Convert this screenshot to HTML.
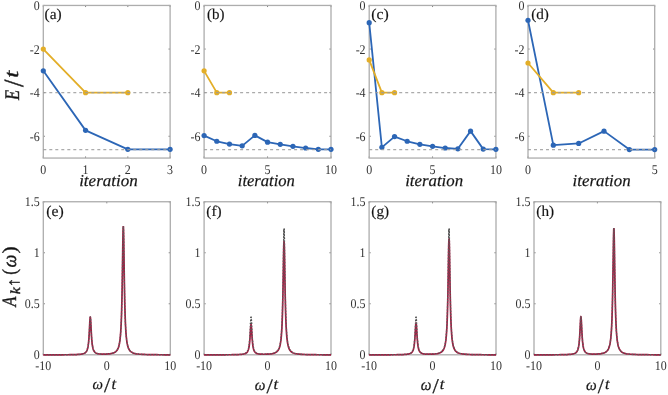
<!DOCTYPE html>
<html><head><meta charset="utf-8"><style>html,body{margin:0;padding:0;background:#fff;width:668px;height:395px;overflow:hidden}svg{display:block}text{text-rendering:geometricPrecision}</style></head>
<body><svg width="668" height="395" viewBox="0 0 668 395">
<rect width="668" height="395" fill="#fff"/>
<path d="M43.3 158.05v-1.6M43.3 5.45v1.6M85.57 158.05v-1.6M85.57 5.45v1.6M127.83 158.05v-1.6M127.83 5.45v1.6M170.1 158.05v-1.6M170.1 5.45v1.6M43.3 5.45h1.6M170.1 5.45h-1.6M43.3 49.05h1.6M170.1 49.05h-1.6M43.3 92.65h1.6M170.1 92.65h-1.6M43.3 136.25h1.6M170.1 136.25h-1.6" stroke="#808080" stroke-width="1" fill="none"/>
<rect x="43.3" y="5.45" width="126.8" height="152.6" fill="none" stroke="#adadad" stroke-width="1.3"/>
<polyline points="43.3,70.85 85.57,130.36 127.83,149.33 170.1,149.33" fill="none" stroke="#2c66b6" stroke-width="1.8" stroke-linejoin="round"/>
<polyline points="43.3,49.05 85.57,92.65 127.83,92.65" fill="none" stroke="#e3ae28" stroke-width="1.8" stroke-linejoin="round"/>
<circle cx="43.3" cy="70.85" r="2.6" fill="#2c66b6"/>
<circle cx="85.57" cy="130.36" r="2.6" fill="#2c66b6"/>
<circle cx="127.83" cy="149.33" r="2.6" fill="#2c66b6"/>
<circle cx="170.1" cy="149.33" r="2.6" fill="#2c66b6"/>
<circle cx="43.3" cy="49.05" r="2.6" fill="#e3ae28"/>
<circle cx="85.57" cy="92.65" r="2.6" fill="#e3ae28"/>
<circle cx="127.83" cy="92.65" r="2.6" fill="#e3ae28"/>
<line x1="43.3" x2="170.1" y1="92.65" y2="92.65" stroke="#9c9c9c" stroke-width="1.4" stroke-dasharray="3 3" stroke-opacity="0.85"/>
<line x1="43.3" x2="170.1" y1="149.66" y2="149.66" stroke="#9c9c9c" stroke-width="1.4" stroke-dasharray="3 3" stroke-opacity="0.85"/>
<path d="M204.1 158.05v-1.6M204.1 5.45v1.6M267.55 158.05v-1.6M267.55 5.45v1.6M331 158.05v-1.6M331 5.45v1.6M204.1 5.45h1.6M331 5.45h-1.6M204.1 49.05h1.6M331 49.05h-1.6M204.1 92.65h1.6M331 92.65h-1.6M204.1 136.25h1.6M331 136.25h-1.6" stroke="#808080" stroke-width="1" fill="none"/>
<rect x="204.1" y="5.45" width="126.9" height="152.6" fill="none" stroke="#adadad" stroke-width="1.3"/>
<polyline points="204.1,135.6 216.79,141.26 229.48,144.1 242.17,145.84 254.86,135.38 267.55,142.14 280.24,144.32 292.93,146.28 305.62,148.02 318.31,149.33 331,149.33" fill="none" stroke="#2c66b6" stroke-width="1.8" stroke-linejoin="round"/>
<polyline points="204.1,70.85 216.79,92.65 229.48,92.65" fill="none" stroke="#e3ae28" stroke-width="1.8" stroke-linejoin="round"/>
<circle cx="204.1" cy="135.6" r="2.6" fill="#2c66b6"/>
<circle cx="216.79" cy="141.26" r="2.6" fill="#2c66b6"/>
<circle cx="229.48" cy="144.1" r="2.6" fill="#2c66b6"/>
<circle cx="242.17" cy="145.84" r="2.6" fill="#2c66b6"/>
<circle cx="254.86" cy="135.38" r="2.6" fill="#2c66b6"/>
<circle cx="267.55" cy="142.14" r="2.6" fill="#2c66b6"/>
<circle cx="280.24" cy="144.32" r="2.6" fill="#2c66b6"/>
<circle cx="292.93" cy="146.28" r="2.6" fill="#2c66b6"/>
<circle cx="305.62" cy="148.02" r="2.6" fill="#2c66b6"/>
<circle cx="318.31" cy="149.33" r="2.6" fill="#2c66b6"/>
<circle cx="331" cy="149.33" r="2.6" fill="#2c66b6"/>
<circle cx="204.1" cy="70.85" r="2.6" fill="#e3ae28"/>
<circle cx="216.79" cy="92.65" r="2.6" fill="#e3ae28"/>
<circle cx="229.48" cy="92.65" r="2.6" fill="#e3ae28"/>
<line x1="204.1" x2="331" y1="92.65" y2="92.65" stroke="#9c9c9c" stroke-width="1.4" stroke-dasharray="3 3" stroke-opacity="0.85"/>
<line x1="204.1" x2="331" y1="149.66" y2="149.66" stroke="#9c9c9c" stroke-width="1.4" stroke-dasharray="3 3" stroke-opacity="0.85"/>
<path d="M369.2 158.05v-1.6M369.2 5.45v1.6M432.55 158.05v-1.6M432.55 5.45v1.6M495.9 158.05v-1.6M495.9 5.45v1.6M369.2 5.45h1.6M495.9 5.45h-1.6M369.2 49.05h1.6M495.9 49.05h-1.6M369.2 92.65h1.6M495.9 92.65h-1.6M369.2 136.25h1.6M495.9 136.25h-1.6" stroke="#808080" stroke-width="1" fill="none"/>
<rect x="369.2" y="5.45" width="126.7" height="152.6" fill="none" stroke="#adadad" stroke-width="1.3"/>
<polyline points="369.2,22.67 381.87,147.37 394.54,136.58 407.21,141.26 419.88,144.32 432.55,146.28 445.22,148.02 457.89,148.78 470.56,131.13 483.23,149.11 495.9,149.33" fill="none" stroke="#2c66b6" stroke-width="1.8" stroke-linejoin="round"/>
<polyline points="369.2,59.95 381.87,92.65 394.54,92.65" fill="none" stroke="#e3ae28" stroke-width="1.8" stroke-linejoin="round"/>
<circle cx="369.2" cy="22.67" r="2.6" fill="#2c66b6"/>
<circle cx="381.87" cy="147.37" r="2.6" fill="#2c66b6"/>
<circle cx="394.54" cy="136.58" r="2.6" fill="#2c66b6"/>
<circle cx="407.21" cy="141.26" r="2.6" fill="#2c66b6"/>
<circle cx="419.88" cy="144.32" r="2.6" fill="#2c66b6"/>
<circle cx="432.55" cy="146.28" r="2.6" fill="#2c66b6"/>
<circle cx="445.22" cy="148.02" r="2.6" fill="#2c66b6"/>
<circle cx="457.89" cy="148.78" r="2.6" fill="#2c66b6"/>
<circle cx="470.56" cy="131.13" r="2.6" fill="#2c66b6"/>
<circle cx="483.23" cy="149.11" r="2.6" fill="#2c66b6"/>
<circle cx="495.9" cy="149.33" r="2.6" fill="#2c66b6"/>
<circle cx="369.2" cy="59.95" r="2.6" fill="#e3ae28"/>
<circle cx="381.87" cy="92.65" r="2.6" fill="#e3ae28"/>
<circle cx="394.54" cy="92.65" r="2.6" fill="#e3ae28"/>
<line x1="369.2" x2="495.9" y1="92.65" y2="92.65" stroke="#9c9c9c" stroke-width="1.4" stroke-dasharray="3 3" stroke-opacity="0.85"/>
<line x1="369.2" x2="495.9" y1="149.66" y2="149.66" stroke="#9c9c9c" stroke-width="1.4" stroke-dasharray="3 3" stroke-opacity="0.85"/>
<path d="M528 158.05v-1.6M528 5.45v1.6M654.7 158.05v-1.6M654.7 5.45v1.6M528 5.45h1.6M654.7 5.45h-1.6M528 49.05h1.6M654.7 49.05h-1.6M528 92.65h1.6M654.7 92.65h-1.6M528 136.25h1.6M654.7 136.25h-1.6" stroke="#808080" stroke-width="1" fill="none"/>
<rect x="528" y="5.45" width="126.7" height="152.6" fill="none" stroke="#adadad" stroke-width="1.3"/>
<polyline points="528,20.27 553.34,145.19 578.68,143.44 604.02,131.13 629.36,149.55 654.7,149.55" fill="none" stroke="#2c66b6" stroke-width="1.8" stroke-linejoin="round"/>
<polyline points="528,63 553.34,92.65 578.68,92.65" fill="none" stroke="#e3ae28" stroke-width="1.8" stroke-linejoin="round"/>
<circle cx="528" cy="20.27" r="2.6" fill="#2c66b6"/>
<circle cx="553.34" cy="145.19" r="2.6" fill="#2c66b6"/>
<circle cx="578.68" cy="143.44" r="2.6" fill="#2c66b6"/>
<circle cx="604.02" cy="131.13" r="2.6" fill="#2c66b6"/>
<circle cx="629.36" cy="149.55" r="2.6" fill="#2c66b6"/>
<circle cx="654.7" cy="149.55" r="2.6" fill="#2c66b6"/>
<circle cx="528" cy="63" r="2.6" fill="#e3ae28"/>
<circle cx="553.34" cy="92.65" r="2.6" fill="#e3ae28"/>
<circle cx="578.68" cy="92.65" r="2.6" fill="#e3ae28"/>
<line x1="528" x2="654.7" y1="92.65" y2="92.65" stroke="#9c9c9c" stroke-width="1.4" stroke-dasharray="3 3" stroke-opacity="0.85"/>
<line x1="528" x2="654.7" y1="149.66" y2="149.66" stroke="#9c9c9c" stroke-width="1.4" stroke-dasharray="3 3" stroke-opacity="0.85"/>
<path d="M43.3 354.8v-1.6M43.3 201.75v1.6M106.8 354.8v-1.6M106.8 201.75v1.6M170.3 354.8v-1.6M170.3 201.75v1.6M43.3 354.8h1.6M170.3 354.8h-1.6M43.3 303.78h1.6M170.3 303.78h-1.6M43.3 252.77h1.6M170.3 252.77h-1.6M43.3 201.75h1.6M170.3 201.75h-1.6" stroke="#808080" stroke-width="1" fill="none"/>
<rect x="43.3" y="201.75" width="127" height="153.05" fill="none" stroke="#adadad" stroke-width="1.3"/>
<polyline points="43.3,354.85 45.2,354.84 47.11,354.84 49.02,354.83 50.92,354.83 52.83,354.82 54.73,354.82 56.63,354.81 58.54,354.8 60.45,354.79 62.35,354.78 64.25,354.77 66.16,354.75 68.06,354.73 69.97,354.7 71.8,354.67 73.46,354.63 74.98,354.59 76.36,354.53 77.61,354.47 78.75,354.4 79.79,354.31 80.73,354.21 81.59,354.08 82.38,353.93 83.09,353.76 83.74,353.55 84.33,353.3 84.86,353 85.35,352.65 85.8,352.24 86.2,351.75 86.57,351.18 86.9,350.52 87.21,349.75 87.49,348.87 87.74,347.87 87.97,346.75 88.18,345.49 88.37,344.11 88.54,342.62 88.7,341.01 88.84,339.33 88.97,337.59 89.09,335.82 89.2,334.05 89.3,332.31 89.39,330.63 89.47,329.04 89.54,327.51 89.62,325.97 89.7,324.44 89.77,322.95 89.85,321.54 89.92,320.25 90,319.13 90.08,318.22 90.15,317.56 90.23,317.17 90.29,317.08 90.31,317.08 90.38,317.29 90.46,317.79 90.53,318.55 90.61,319.55 90.69,320.74 90.76,322.08 90.84,323.52 90.91,325.03 90.99,326.57 91.07,328.11 91.14,329.63 91.22,331.11 91.3,332.65 91.4,334.25 91.49,335.86 91.6,337.48 91.72,339.07 91.85,340.62 91.99,342.1 92.14,343.5 92.31,344.81 92.49,346.01 92.69,347.11 92.91,348.1 93.14,348.98 93.4,349.76 93.68,350.45 93.98,351.05 94.32,351.57 94.68,352.03 95.07,352.41 95.5,352.74 95.97,353.03 96.49,353.26 97.04,353.46 97.65,353.63 98.31,353.77 99.03,353.88 99.82,353.97 100.68,354.03 101.61,354.08 102.63,354.11 103.74,354.11 104.96,354.09 106.28,354.04 107.71,353.95 109.12,353.82 110.39,353.65 111.56,353.44 112.61,353.17 113.58,352.85 114.45,352.46 115.25,351.99 115.98,351.43 116.64,350.75 117.24,349.94 117.78,348.98 118.28,347.83 118.73,346.47 119.15,344.87 119.52,343 119.86,340.81 120.17,338.27 120.45,335.36 120.71,332.03 120.94,328.28 121.16,324.07 121.35,319.44 121.53,314.42 121.69,309.01 121.83,303.3 121.97,297.38 122.09,291.35 122.2,285.27 122.3,279.33 122.39,273.54 122.47,268.07 122.55,262.87 122.62,257.6 122.7,252.35 122.78,247.22 122.85,242.34 122.93,237.85 123.01,233.9 123.08,230.64 123.16,228.21 123.23,226.7 123.31,226.19 123.39,226.7 123.46,228.21 123.54,230.65 123.61,233.91 123.69,237.85 123.77,242.34 123.84,247.22 123.92,252.35 124,257.61 124.07,262.88 124.15,268.07 124.22,273.13 124.31,278.39 124.4,283.81 124.49,289.33 124.6,294.87 124.72,300.34 124.84,305.66 124.98,310.8 125.13,315.65 125.3,320.18 125.47,324.36 125.67,328.19 125.88,331.66 126.11,334.75 126.37,337.51 126.64,339.94 126.94,342.07 127.27,343.92 127.62,345.53 128.01,346.91 128.44,348.11 128.9,349.13 129.4,350 129.95,350.75 130.54,351.38 131.2,351.92 131.91,352.38 132.68,352.77 133.52,353.1 134.44,353.38 135.44,353.61 136.54,353.81 137.73,353.98 139.02,354.12 140.44,354.24 141.98,354.34 143.66,354.43 145.49,354.5 147.39,354.56 149.3,354.61 151.2,354.64 153.11,354.68 155.01,354.7 156.92,354.72 158.82,354.74 160.73,354.76 162.63,354.77 164.54,354.78 166.44,354.79 168.35,354.8 170.25,354.81 170.3,354.81" fill="none" stroke="#a31a40" stroke-width="1.7"/>
<polyline points="43.3,354.85 45.2,354.84 47.11,354.84 49.02,354.83 50.92,354.83 52.83,354.82 54.73,354.82 56.63,354.81 58.54,354.8 60.45,354.79 62.35,354.78 64.25,354.77 66.16,354.75 68.06,354.73 69.97,354.7 71.8,354.67 73.46,354.63 74.98,354.59 76.36,354.53 77.61,354.47 78.75,354.4 79.79,354.31 80.73,354.21 81.59,354.08 82.38,353.93 83.09,353.76 83.74,353.55 84.33,353.3 84.86,353 85.35,352.65 85.8,352.24 86.2,351.75 86.57,351.18 86.9,350.52 87.21,349.75 87.49,348.87 87.74,347.87 87.97,346.75 88.18,345.49 88.37,344.11 88.54,342.62 88.7,341.01 88.84,339.33 88.97,337.59 89.09,335.82 89.2,334.05 89.3,332.31 89.39,330.63 89.47,329.04 89.54,327.51 89.62,325.97 89.7,324.44 89.77,322.95 89.85,321.54 89.92,320.25 90,319.13 90.08,318.22 90.15,317.56 90.23,317.17 90.29,317.08 90.31,317.08 90.38,317.29 90.46,317.79 90.53,318.55 90.61,319.55 90.69,320.74 90.76,322.08 90.84,323.52 90.91,325.03 90.99,326.57 91.07,328.11 91.14,329.63 91.22,331.11 91.3,332.65 91.4,334.25 91.49,335.86 91.6,337.48 91.72,339.07 91.85,340.62 91.99,342.1 92.14,343.5 92.31,344.81 92.49,346.01 92.69,347.11 92.91,348.1 93.14,348.98 93.4,349.76 93.68,350.45 93.98,351.05 94.32,351.57 94.68,352.03 95.07,352.41 95.5,352.74 95.97,353.03 96.49,353.26 97.04,353.46 97.65,353.63 98.31,353.77 99.03,353.88 99.82,353.97 100.68,354.03 101.61,354.08 102.63,354.11 103.74,354.11 104.96,354.09 106.28,354.04 107.71,353.95 109.12,353.82 110.39,353.65 111.56,353.44 112.61,353.17 113.58,352.85 114.45,352.46 115.25,351.99 115.98,351.43 116.64,350.75 117.24,349.94 117.78,348.98 118.28,347.83 118.73,346.47 119.15,344.87 119.52,343 119.86,340.81 120.17,338.27 120.45,335.36 120.71,332.03 120.94,328.28 121.16,324.07 121.35,319.44 121.53,314.42 121.69,309.01 121.83,303.3 121.97,297.38 122.09,291.35 122.2,285.27 122.3,279.33 122.39,273.54 122.47,268.07 122.55,262.87 122.62,257.6 122.7,252.35 122.78,247.22 122.85,242.34 122.93,237.85 123.01,233.9 123.08,230.64 123.16,228.21 123.23,226.7 123.31,226.19 123.39,226.7 123.46,228.21 123.54,230.65 123.61,233.91 123.69,237.85 123.77,242.34 123.84,247.22 123.92,252.35 124,257.61 124.07,262.88 124.15,268.07 124.22,273.13 124.31,278.39 124.4,283.81 124.49,289.33 124.6,294.87 124.72,300.34 124.84,305.66 124.98,310.8 125.13,315.65 125.3,320.18 125.47,324.36 125.67,328.19 125.88,331.66 126.11,334.75 126.37,337.51 126.64,339.94 126.94,342.07 127.27,343.92 127.62,345.53 128.01,346.91 128.44,348.11 128.9,349.13 129.4,350 129.95,350.75 130.54,351.38 131.2,351.92 131.91,352.38 132.68,352.77 133.52,353.1 134.44,353.38 135.44,353.61 136.54,353.81 137.73,353.98 139.02,354.12 140.44,354.24 141.98,354.34 143.66,354.43 145.49,354.5 147.39,354.56 149.3,354.61 151.2,354.64 153.11,354.68 155.01,354.7 156.92,354.72 158.82,354.74 160.73,354.76 162.63,354.77 164.54,354.78 166.44,354.79 168.35,354.8 170.25,354.81 170.3,354.81" fill="none" stroke="#5e5e5e" stroke-width="1.3" stroke-dasharray="1.5 1.54" stroke-dashoffset="1.42"/>
<path d="M204.1 354.8v-1.6M204.1 201.75v1.6M267.55 354.8v-1.6M267.55 201.75v1.6M331 354.8v-1.6M331 201.75v1.6M204.1 354.8h1.6M331 354.8h-1.6M204.1 303.78h1.6M331 303.78h-1.6M204.1 252.77h1.6M331 252.77h-1.6M204.1 201.75h1.6M331 201.75h-1.6" stroke="#808080" stroke-width="1" fill="none"/>
<rect x="204.1" y="201.75" width="126.9" height="153.05" fill="none" stroke="#adadad" stroke-width="1.3"/>
<polyline points="204.1,354.85 206,354.85 207.91,354.85 209.81,354.84 211.71,354.84 213.62,354.84 215.52,354.83 217.42,354.82 219.33,354.82 221.23,354.81 223.13,354.8 225.04,354.79 226.94,354.77 228.85,354.76 230.75,354.74 232.58,354.71 234.24,354.68 235.75,354.64 237.13,354.6 238.38,354.55 239.52,354.49 240.56,354.42 241.51,354.34 242.36,354.24 243.15,354.12 243.86,353.98 244.51,353.81 245.1,353.61 245.63,353.37 246.12,353.09 246.56,352.76 246.97,352.37 247.33,351.91 247.67,351.38 247.97,350.77 248.25,350.07 248.5,349.27 248.73,348.37 248.94,347.37 249.13,346.26 249.3,345.07 249.46,343.79 249.61,342.44 249.74,341.05 249.85,339.63 249.96,338.21 250.06,336.82 250.15,335.48 250.23,334.21 250.31,332.99 250.38,331.76 250.46,330.53 250.54,329.34 250.61,328.21 250.69,327.19 250.76,326.29 250.84,325.56 250.92,325.03 250.99,324.73 251.05,324.65 251.07,324.65 251.14,324.82 251.22,325.22 251.3,325.83 251.37,326.62 251.45,327.58 251.53,328.65 251.6,329.8 251.68,331.01 251.75,332.24 251.83,333.47 251.91,334.68 251.98,335.86 252.07,337.1 252.16,338.38 252.26,339.66 252.37,340.96 252.48,342.23 252.61,343.47 252.75,344.65 252.91,345.77 253.07,346.82 253.25,347.78 253.45,348.66 253.67,349.44 253.9,350.15 254.16,350.78 254.44,351.33 254.74,351.81 255.08,352.22 255.44,352.58 255.83,352.89 256.26,353.16 256.73,353.38 257.24,353.57 257.8,353.73 258.41,353.86 259.07,353.97 259.79,354.06 260.58,354.13 261.43,354.18 262.37,354.21 263.39,354.23 264.5,354.23 265.71,354.21 267.03,354.16 268.46,354.08 269.87,353.96 271.14,353.81 272.3,353.62 273.36,353.38 274.32,353.1 275.2,352.75 275.99,352.33 276.72,351.83 277.38,351.23 277.98,350.52 278.52,349.66 279.02,348.65 279.47,347.45 279.89,346.03 280.26,344.37 280.6,342.43 280.91,340.19 281.19,337.61 281.45,334.67 281.68,331.34 281.9,327.62 282.09,323.53 282.27,319.08 282.43,314.29 282.57,309.24 282.71,304 282.83,298.67 282.94,293.28 283.04,288.03 283.13,282.9 283.21,278.06 283.29,273.46 283.36,268.8 283.44,264.15 283.51,259.61 283.59,255.29 283.67,251.32 283.74,247.82 283.82,244.94 283.89,242.78 283.97,241.44 284.05,240.99 284.12,241.44 284.2,242.78 284.28,244.94 284.35,247.82 284.43,251.32 284.5,255.29 284.58,259.61 284.66,264.15 284.73,268.8 284.81,273.46 284.88,278.06 284.96,282.54 285.04,287.2 285.13,291.98 285.23,296.87 285.34,301.77 285.45,306.62 285.58,311.33 285.72,315.87 285.87,320.17 286.03,324.17 286.21,327.88 286.4,331.27 286.62,334.33 286.85,337.07 287.1,339.51 287.38,341.66 287.68,343.54 288,345.18 288.36,346.61 288.75,347.84 289.17,348.89 289.63,349.8 290.13,350.57 290.68,351.23 291.28,351.79 291.93,352.27 292.64,352.67 293.41,353.02 294.25,353.31 295.17,353.56 296.17,353.76 297.26,353.94 298.45,354.09 299.75,354.21 301.16,354.32 302.7,354.41 304.38,354.49 306.21,354.55 308.11,354.6 310.02,354.64 311.92,354.68 313.82,354.7 315.73,354.72 317.63,354.74 319.53,354.76 321.44,354.77 323.34,354.78 325.24,354.79 327.15,354.8 329.05,354.81 330.95,354.82 331,354.82" fill="none" stroke="#a31a40" stroke-width="1.7"/>
<polyline points="204.1,354.85 206,354.84 207.91,354.84 209.81,354.83 211.71,354.83 213.62,354.82 215.52,354.82 217.42,354.81 219.33,354.8 221.23,354.79 223.13,354.78 225.04,354.77 226.94,354.75 228.85,354.73 230.75,354.7 232.58,354.67 234.24,354.63 235.75,354.59 237.13,354.54 238.38,354.48 239.52,354.4 240.56,354.32 241.51,354.21 242.36,354.09 243.15,353.94 243.86,353.76 244.51,353.55 245.1,353.31 245.63,353.01 246.12,352.66 246.56,352.25 246.97,351.77 247.33,351.2 247.67,350.54 247.97,349.78 248.25,348.91 248.5,347.91 248.73,346.79 248.94,345.55 249.13,344.17 249.3,342.68 249.46,341.09 249.61,339.41 249.74,337.68 249.85,335.92 249.96,334.16 250.06,332.43 250.15,330.76 250.23,329.18 250.31,327.66 250.38,326.13 250.46,324.6 250.54,323.12 250.61,321.72 250.69,320.44 250.76,319.33 250.84,318.42 250.92,317.76 250.99,317.38 251.05,317.29 251.07,317.29 251.14,317.5 251.22,317.99 251.3,318.75 251.37,319.74 251.45,320.93 251.53,322.26 251.6,323.7 251.68,325.2 251.75,326.73 251.83,328.26 251.91,329.76 251.98,331.24 252.07,332.78 252.16,334.36 252.26,335.97 252.37,337.58 252.48,339.16 252.61,340.7 252.75,342.17 252.91,343.57 253.07,344.87 253.25,346.06 253.45,347.15 253.67,348.14 253.9,349.02 254.16,349.79 254.44,350.48 254.74,351.08 255.08,351.6 255.44,352.04 255.83,352.43 256.26,352.76 256.73,353.04 257.24,353.28 257.8,353.48 258.41,353.64 259.07,353.78 259.79,353.89 260.58,353.98 261.43,354.04 262.37,354.09 263.39,354.12 264.5,354.12 265.71,354.1 267.03,354.06 268.46,353.97 269.87,353.84 271.14,353.67 272.3,353.46 273.36,353.2 274.32,352.89 275.2,352.51 275.99,352.04 276.72,351.49 277.38,350.82 277.98,350.03 278.52,349.08 279.02,347.96 279.47,346.62 279.89,345.06 280.26,343.21 280.6,341.06 280.91,338.57 281.19,335.71 281.45,332.45 281.68,328.76 281.9,324.63 282.09,320.09 282.27,315.15 282.43,309.84 282.57,304.24 282.71,298.43 282.83,292.51 282.94,286.54 283.04,280.71 283.13,275.02 283.21,269.65 283.29,264.55 283.36,259.38 283.44,254.22 283.51,249.18 283.59,244.39 283.67,239.99 283.74,236.11 283.82,232.91 283.89,230.52 283.97,229.03 284.05,228.53 284.12,229.03 284.2,230.52 284.28,232.91 284.35,236.11 284.43,239.99 284.5,244.4 284.58,249.19 284.66,254.22 284.73,259.38 284.81,264.55 284.88,269.66 284.96,274.62 285.04,279.79 285.13,285.1 285.23,290.52 285.34,295.96 285.45,301.34 285.58,306.56 285.72,311.6 285.87,316.36 286.03,320.81 286.21,324.92 286.4,328.68 286.62,332.08 286.85,335.12 287.1,337.83 287.38,340.21 287.68,342.3 288,344.12 288.36,345.7 288.75,347.06 289.17,348.23 289.63,349.23 290.13,350.09 290.68,350.82 291.28,351.45 291.93,351.98 292.64,352.43 293.41,352.81 294.25,353.13 295.17,353.41 296.17,353.64 297.26,353.83 298.45,354 299.75,354.14 301.16,354.25 302.7,354.35 304.38,354.44 306.21,354.51 308.11,354.57 310.02,354.61 311.92,354.65 313.82,354.68 315.73,354.7 317.63,354.73 319.53,354.74 321.44,354.76 323.34,354.77 325.24,354.78 327.15,354.79 329.05,354.8 330.95,354.81 331,354.81" fill="none" stroke="#5e5e5e" stroke-width="1.3" stroke-dasharray="1.5 1.54" stroke-dashoffset="1.42"/>
<clipPath id="tip204"><rect x="204.1" y="201.75" width="126.9" height="38.68"/><rect x="246.05" y="290" width="10" height="34.2"/></clipPath>
<polyline clip-path="url(#tip204)" points="204.1,354.85 206,354.84 207.91,354.84 209.81,354.83 211.71,354.83 213.62,354.82 215.52,354.82 217.42,354.81 219.33,354.8 221.23,354.79 223.13,354.78 225.04,354.77 226.94,354.75 228.85,354.73 230.75,354.7 232.58,354.67 234.24,354.63 235.75,354.59 237.13,354.54 238.38,354.48 239.52,354.4 240.56,354.32 241.51,354.21 242.36,354.09 243.15,353.94 243.86,353.76 244.51,353.55 245.1,353.31 245.63,353.01 246.12,352.66 246.56,352.25 246.97,351.77 247.33,351.2 247.67,350.54 247.97,349.78 248.25,348.91 248.5,347.91 248.73,346.79 248.94,345.55 249.13,344.17 249.3,342.68 249.46,341.09 249.61,339.41 249.74,337.68 249.85,335.92 249.96,334.16 250.06,332.43 250.15,330.76 250.23,329.18 250.31,327.66 250.38,326.13 250.46,324.6 250.54,323.12 250.61,321.72 250.69,320.44 250.76,319.33 250.84,318.42 250.92,317.76 250.99,317.38 251.05,317.29 251.07,317.29 251.14,317.5 251.22,317.99 251.3,318.75 251.37,319.74 251.45,320.93 251.53,322.26 251.6,323.7 251.68,325.2 251.75,326.73 251.83,328.26 251.91,329.76 251.98,331.24 252.07,332.78 252.16,334.36 252.26,335.97 252.37,337.58 252.48,339.16 252.61,340.7 252.75,342.17 252.91,343.57 253.07,344.87 253.25,346.06 253.45,347.15 253.67,348.14 253.9,349.02 254.16,349.79 254.44,350.48 254.74,351.08 255.08,351.6 255.44,352.04 255.83,352.43 256.26,352.76 256.73,353.04 257.24,353.28 257.8,353.48 258.41,353.64 259.07,353.78 259.79,353.89 260.58,353.98 261.43,354.04 262.37,354.09 263.39,354.12 264.5,354.12 265.71,354.1 267.03,354.06 268.46,353.97 269.87,353.84 271.14,353.67 272.3,353.46 273.36,353.2 274.32,352.89 275.2,352.51 275.99,352.04 276.72,351.49 277.38,350.82 277.98,350.03 278.52,349.08 279.02,347.96 279.47,346.62 279.89,345.06 280.26,343.21 280.6,341.06 280.91,338.57 281.19,335.71 281.45,332.45 281.68,328.76 281.9,324.63 282.09,320.09 282.27,315.15 282.43,309.84 282.57,304.24 282.71,298.43 282.83,292.51 282.94,286.54 283.04,280.71 283.13,275.02 283.21,269.65 283.29,264.55 283.36,259.38 283.44,254.22 283.51,249.18 283.59,244.39 283.67,239.99 283.74,236.11 283.82,232.91 283.89,230.52 283.97,229.03 284.05,228.53 284.12,229.03 284.2,230.52 284.28,232.91 284.35,236.11 284.43,239.99 284.5,244.4 284.58,249.19 284.66,254.22 284.73,259.38 284.81,264.55 284.88,269.66 284.96,274.62 285.04,279.79 285.13,285.1 285.23,290.52 285.34,295.96 285.45,301.34 285.58,306.56 285.72,311.6 285.87,316.36 286.03,320.81 286.21,324.92 286.4,328.68 286.62,332.08 286.85,335.12 287.1,337.83 287.38,340.21 287.68,342.3 288,344.12 288.36,345.7 288.75,347.06 289.17,348.23 289.63,349.23 290.13,350.09 290.68,350.82 291.28,351.45 291.93,351.98 292.64,352.43 293.41,352.81 294.25,353.13 295.17,353.41 296.17,353.64 297.26,353.83 298.45,354 299.75,354.14 301.16,354.25 302.7,354.35 304.38,354.44 306.21,354.51 308.11,354.57 310.02,354.61 311.92,354.65 313.82,354.68 315.73,354.7 317.63,354.73 319.53,354.74 321.44,354.76 323.34,354.77 325.24,354.78 327.15,354.79 329.05,354.8 330.95,354.81 331,354.81" fill="none" stroke="#505050" stroke-width="1.4" stroke-dasharray="1.5 1.54" stroke-dashoffset="1.42"/>
<path d="M369.1 354.8v-1.6M369.1 201.75v1.6M432.55 354.8v-1.6M432.55 201.75v1.6M496 354.8v-1.6M496 201.75v1.6M369.1 354.8h1.6M496 354.8h-1.6M369.1 303.78h1.6M496 303.78h-1.6M369.1 252.77h1.6M496 252.77h-1.6M369.1 201.75h1.6M496 201.75h-1.6" stroke="#808080" stroke-width="1" fill="none"/>
<rect x="369.1" y="201.75" width="126.9" height="153.05" fill="none" stroke="#adadad" stroke-width="1.3"/>
<polyline points="369.1,354.85 371,354.85 372.91,354.85 374.81,354.84 376.71,354.84 378.62,354.83 380.52,354.83 382.42,354.82 384.33,354.81 386.23,354.81 388.13,354.8 390.04,354.78 391.94,354.77 393.85,354.75 395.75,354.73 397.58,354.7 399.24,354.67 400.75,354.63 402.13,354.59 403.38,354.53 404.52,354.47 405.56,354.4 406.51,354.31 407.36,354.2 408.15,354.08 408.86,353.93 409.51,353.75 410.1,353.54 410.63,353.29 411.12,352.99 411.56,352.65 411.97,352.24 412.33,351.76 412.67,351.2 412.97,350.55 413.25,349.81 413.5,348.97 413.73,348.02 413.94,346.96 414.13,345.8 414.3,344.54 414.46,343.19 414.61,341.77 414.74,340.3 414.85,338.81 414.96,337.31 415.06,335.85 415.15,334.43 415.23,333.1 415.31,331.81 415.38,330.51 415.46,329.21 415.54,327.96 415.61,326.77 415.69,325.69 415.76,324.74 415.84,323.98 415.92,323.42 415.99,323.09 416.05,323.01 416.07,323.02 416.14,323.19 416.22,323.61 416.3,324.26 416.37,325.1 416.45,326.1 416.53,327.23 416.6,328.44 416.68,329.72 416.75,331.01 416.83,332.31 416.91,333.59 416.98,334.83 417.07,336.14 417.16,337.48 417.26,338.84 417.37,340.21 417.48,341.55 417.61,342.85 417.75,344.1 417.91,345.28 418.07,346.38 418.25,347.4 418.45,348.32 418.67,349.15 418.9,349.9 419.16,350.56 419.44,351.14 419.74,351.64 420.08,352.08 420.44,352.46 420.83,352.79 421.26,353.07 421.73,353.31 422.24,353.51 422.8,353.67 423.41,353.81 424.07,353.93 424.79,354.02 425.58,354.09 426.43,354.15 427.37,354.18 428.39,354.2 429.5,354.21 430.71,354.19 432.03,354.14 433.46,354.06 434.87,353.93 436.14,353.78 437.3,353.58 438.36,353.34 439.32,353.05 440.2,352.7 440.99,352.27 441.72,351.76 442.38,351.15 442.98,350.41 443.52,349.54 444.02,348.5 444.47,347.27 444.89,345.82 445.26,344.12 445.6,342.14 445.91,339.84 446.19,337.21 446.45,334.19 446.68,330.79 446.9,326.99 447.09,322.79 447.27,318.24 447.43,313.34 447.57,308.17 447.71,302.81 447.83,297.35 447.94,291.85 448.04,286.47 448.13,281.22 448.21,276.27 448.29,271.56 448.36,266.79 448.44,262.03 448.51,257.39 448.59,252.97 448.67,248.9 448.74,245.33 448.82,242.37 448.89,240.17 448.97,238.8 449.05,238.34 449.12,238.8 449.2,240.17 449.28,242.37 449.35,245.33 449.43,248.9 449.5,252.97 449.58,257.39 449.66,262.03 449.73,266.79 449.81,271.56 449.88,276.27 449.96,280.85 450.04,285.62 450.13,290.52 450.23,295.52 450.34,300.54 450.45,305.49 450.58,310.31 450.72,314.96 450.87,319.36 451.03,323.46 451.21,327.25 451.4,330.71 451.62,333.85 451.85,336.66 452.1,339.15 452.38,341.35 452.68,343.28 453,344.96 453.36,346.41 453.75,347.67 454.17,348.75 454.63,349.68 455.13,350.47 455.68,351.14 456.28,351.72 456.93,352.21 457.64,352.62 458.41,352.97 459.25,353.27 460.17,353.52 461.17,353.74 462.26,353.92 463.45,354.07 464.75,354.2 466.16,354.31 467.7,354.4 469.38,354.48 471.21,354.54 473.11,354.59 475.02,354.64 476.92,354.67 478.82,354.7 480.73,354.72 482.63,354.74 484.53,354.76 486.44,354.77 488.34,354.78 490.24,354.79 492.15,354.8 494.05,354.81 495.95,354.82 496,354.82" fill="none" stroke="#a31a40" stroke-width="1.7"/>
<polyline points="369.1,354.85 371,354.84 372.91,354.84 374.81,354.83 376.71,354.83 378.62,354.82 380.52,354.82 382.42,354.81 384.33,354.8 386.23,354.79 388.13,354.78 390.04,354.77 391.94,354.75 393.85,354.73 395.75,354.7 397.58,354.67 399.24,354.63 400.75,354.59 402.13,354.54 403.38,354.48 404.52,354.4 405.56,354.32 406.51,354.21 407.36,354.09 408.15,353.94 408.86,353.76 409.51,353.55 410.1,353.31 410.63,353.01 411.12,352.66 411.56,352.25 411.97,351.77 412.33,351.2 412.67,350.54 412.97,349.78 413.25,348.91 413.5,347.91 413.73,346.79 413.94,345.55 414.13,344.17 414.3,342.68 414.46,341.09 414.61,339.41 414.74,337.68 414.85,335.92 414.96,334.16 415.06,332.43 415.15,330.76 415.23,329.18 415.31,327.66 415.38,326.13 415.46,324.6 415.54,323.12 415.61,321.72 415.69,320.44 415.76,319.33 415.84,318.42 415.92,317.76 415.99,317.38 416.05,317.29 416.07,317.29 416.14,317.5 416.22,317.99 416.3,318.75 416.37,319.74 416.45,320.93 416.53,322.26 416.6,323.7 416.68,325.2 416.75,326.73 416.83,328.26 416.91,329.76 416.98,331.24 417.07,332.78 417.16,334.36 417.26,335.97 417.37,337.58 417.48,339.16 417.61,340.7 417.75,342.17 417.91,343.57 418.07,344.87 418.25,346.06 418.45,347.15 418.67,348.14 418.9,349.02 419.16,349.79 419.44,350.48 419.74,351.08 420.08,351.6 420.44,352.04 420.83,352.43 421.26,352.76 421.73,353.04 422.24,353.28 422.8,353.48 423.41,353.64 424.07,353.78 424.79,353.89 425.58,353.98 426.43,354.04 427.37,354.09 428.39,354.12 429.5,354.12 430.71,354.1 432.03,354.06 433.46,353.97 434.87,353.84 436.14,353.67 437.3,353.46 438.36,353.2 439.32,352.89 440.2,352.51 440.99,352.04 441.72,351.49 442.38,350.82 442.98,350.03 443.52,349.08 444.02,347.96 444.47,346.62 444.89,345.06 445.26,343.21 445.6,341.06 445.91,338.57 446.19,335.71 446.45,332.45 446.68,328.76 446.9,324.63 447.09,320.09 447.27,315.15 447.43,309.84 447.57,304.24 447.71,298.43 447.83,292.51 447.94,286.54 448.04,280.71 448.13,275.02 448.21,269.65 448.29,264.55 448.36,259.38 448.44,254.22 448.51,249.18 448.59,244.39 448.67,239.99 448.74,236.11 448.82,232.91 448.89,230.52 448.97,229.03 449.05,228.53 449.12,229.03 449.2,230.52 449.28,232.91 449.35,236.11 449.43,239.99 449.5,244.4 449.58,249.19 449.66,254.22 449.73,259.38 449.81,264.55 449.88,269.66 449.96,274.62 450.04,279.79 450.13,285.1 450.23,290.52 450.34,295.96 450.45,301.34 450.58,306.56 450.72,311.6 450.87,316.36 451.03,320.81 451.21,324.92 451.4,328.68 451.62,332.08 451.85,335.12 452.1,337.83 452.38,340.21 452.68,342.3 453,344.12 453.36,345.7 453.75,347.06 454.17,348.23 454.63,349.23 455.13,350.09 455.68,350.82 456.28,351.45 456.93,351.98 457.64,352.43 458.41,352.81 459.25,353.13 460.17,353.41 461.17,353.64 462.26,353.83 463.45,354 464.75,354.14 466.16,354.25 467.7,354.35 469.38,354.44 471.21,354.51 473.11,354.57 475.02,354.61 476.92,354.65 478.82,354.68 480.73,354.7 482.63,354.73 484.53,354.74 486.44,354.76 488.34,354.77 490.24,354.78 492.15,354.79 494.05,354.8 495.95,354.81 496,354.81" fill="none" stroke="#5e5e5e" stroke-width="1.3" stroke-dasharray="1.5 1.54" stroke-dashoffset="1.42"/>
<clipPath id="tip369"><rect x="369.1" y="201.75" width="126.9" height="36.03"/><rect x="411.05" y="290" width="10" height="32.57"/></clipPath>
<polyline clip-path="url(#tip369)" points="369.1,354.85 371,354.84 372.91,354.84 374.81,354.83 376.71,354.83 378.62,354.82 380.52,354.82 382.42,354.81 384.33,354.8 386.23,354.79 388.13,354.78 390.04,354.77 391.94,354.75 393.85,354.73 395.75,354.7 397.58,354.67 399.24,354.63 400.75,354.59 402.13,354.54 403.38,354.48 404.52,354.4 405.56,354.32 406.51,354.21 407.36,354.09 408.15,353.94 408.86,353.76 409.51,353.55 410.1,353.31 410.63,353.01 411.12,352.66 411.56,352.25 411.97,351.77 412.33,351.2 412.67,350.54 412.97,349.78 413.25,348.91 413.5,347.91 413.73,346.79 413.94,345.55 414.13,344.17 414.3,342.68 414.46,341.09 414.61,339.41 414.74,337.68 414.85,335.92 414.96,334.16 415.06,332.43 415.15,330.76 415.23,329.18 415.31,327.66 415.38,326.13 415.46,324.6 415.54,323.12 415.61,321.72 415.69,320.44 415.76,319.33 415.84,318.42 415.92,317.76 415.99,317.38 416.05,317.29 416.07,317.29 416.14,317.5 416.22,317.99 416.3,318.75 416.37,319.74 416.45,320.93 416.53,322.26 416.6,323.7 416.68,325.2 416.75,326.73 416.83,328.26 416.91,329.76 416.98,331.24 417.07,332.78 417.16,334.36 417.26,335.97 417.37,337.58 417.48,339.16 417.61,340.7 417.75,342.17 417.91,343.57 418.07,344.87 418.25,346.06 418.45,347.15 418.67,348.14 418.9,349.02 419.16,349.79 419.44,350.48 419.74,351.08 420.08,351.6 420.44,352.04 420.83,352.43 421.26,352.76 421.73,353.04 422.24,353.28 422.8,353.48 423.41,353.64 424.07,353.78 424.79,353.89 425.58,353.98 426.43,354.04 427.37,354.09 428.39,354.12 429.5,354.12 430.71,354.1 432.03,354.06 433.46,353.97 434.87,353.84 436.14,353.67 437.3,353.46 438.36,353.2 439.32,352.89 440.2,352.51 440.99,352.04 441.72,351.49 442.38,350.82 442.98,350.03 443.52,349.08 444.02,347.96 444.47,346.62 444.89,345.06 445.26,343.21 445.6,341.06 445.91,338.57 446.19,335.71 446.45,332.45 446.68,328.76 446.9,324.63 447.09,320.09 447.27,315.15 447.43,309.84 447.57,304.24 447.71,298.43 447.83,292.51 447.94,286.54 448.04,280.71 448.13,275.02 448.21,269.65 448.29,264.55 448.36,259.38 448.44,254.22 448.51,249.18 448.59,244.39 448.67,239.99 448.74,236.11 448.82,232.91 448.89,230.52 448.97,229.03 449.05,228.53 449.12,229.03 449.2,230.52 449.28,232.91 449.35,236.11 449.43,239.99 449.5,244.4 449.58,249.19 449.66,254.22 449.73,259.38 449.81,264.55 449.88,269.66 449.96,274.62 450.04,279.79 450.13,285.1 450.23,290.52 450.34,295.96 450.45,301.34 450.58,306.56 450.72,311.6 450.87,316.36 451.03,320.81 451.21,324.92 451.4,328.68 451.62,332.08 451.85,335.12 452.1,337.83 452.38,340.21 452.68,342.3 453,344.12 453.36,345.7 453.75,347.06 454.17,348.23 454.63,349.23 455.13,350.09 455.68,350.82 456.28,351.45 456.93,351.98 457.64,352.43 458.41,352.81 459.25,353.13 460.17,353.41 461.17,353.64 462.26,353.83 463.45,354 464.75,354.14 466.16,354.25 467.7,354.35 469.38,354.44 471.21,354.51 473.11,354.57 475.02,354.61 476.92,354.65 478.82,354.68 480.73,354.7 482.63,354.73 484.53,354.74 486.44,354.76 488.34,354.77 490.24,354.78 492.15,354.79 494.05,354.8 495.95,354.81 496,354.81" fill="none" stroke="#505050" stroke-width="1.4" stroke-dasharray="1.5 1.54" stroke-dashoffset="1.42"/>
<path d="M534 354.8v-1.6M534 201.75v1.6M597.4 354.8v-1.6M597.4 201.75v1.6M660.8 354.8v-1.6M660.8 201.75v1.6M534 354.8h1.6M660.8 354.8h-1.6M534 303.78h1.6M660.8 303.78h-1.6M534 252.77h1.6M660.8 252.77h-1.6M534 201.75h1.6M660.8 201.75h-1.6" stroke="#808080" stroke-width="1" fill="none"/>
<rect x="534" y="201.75" width="126.8" height="153.05" fill="none" stroke="#adadad" stroke-width="1.3"/>
<polyline points="534,354.85 535.9,354.84 537.8,354.84 539.71,354.83 541.61,354.83 543.51,354.82 545.41,354.82 547.31,354.81 549.22,354.8 551.12,354.79 553.02,354.78 554.92,354.77 556.82,354.75 558.73,354.73 560.63,354.7 562.45,354.67 564.12,354.63 565.63,354.59 567,354.53 568.26,354.47 569.39,354.4 570.43,354.31 571.38,354.2 572.23,354.08 573.02,353.93 573.73,353.75 574.37,353.54 574.96,353.29 575.5,352.99 575.99,352.63 576.43,352.22 576.83,351.73 577.2,351.15 577.53,350.49 577.84,349.71 578.12,348.83 578.37,347.82 578.6,346.68 578.81,345.42 579,344.03 579.17,342.52 579.33,340.91 579.47,339.21 579.6,337.45 579.72,335.66 579.83,333.88 579.92,332.13 580.01,330.44 580.09,328.84 580.17,327.3 580.25,325.74 580.32,324.19 580.4,322.69 580.47,321.27 580.55,319.97 580.63,318.84 580.7,317.93 580.78,317.26 580.86,316.87 580.92,316.77 580.93,316.78 581.01,316.99 581.08,317.49 581.16,318.26 581.24,319.27 581.31,320.47 581.39,321.82 581.46,323.27 581.54,324.8 581.62,326.35 581.69,327.9 581.77,329.42 581.84,330.92 581.93,332.48 582.02,334.09 582.12,335.71 582.23,337.34 582.35,338.95 582.47,340.51 582.61,342 582.77,343.41 582.93,344.73 583.11,345.94 583.31,347.05 583.53,348.05 583.76,348.94 584.02,349.73 584.3,350.42 584.6,351.03 584.94,351.55 585.3,352.01 585.69,352.4 586.12,352.73 586.59,353.02 587.1,353.26 587.66,353.46 588.26,353.63 588.93,353.77 589.65,353.88 590.43,353.97 591.29,354.04 592.22,354.08 593.24,354.11 594.35,354.12 595.56,354.1 596.88,354.05 598.31,353.97 599.71,353.84 600.99,353.67 602.15,353.46 603.21,353.2 604.17,352.88 605.04,352.5 605.84,352.03 606.56,351.48 607.22,350.81 607.82,350.01 608.37,349.06 608.86,347.93 609.31,346.6 609.73,345.02 610.1,343.17 610.44,341.02 610.75,338.52 611.03,335.65 611.29,332.37 611.52,328.68 611.74,324.54 611.93,319.98 612.1,315.03 612.26,309.7 612.41,304.08 612.54,298.25 612.66,292.31 612.77,286.32 612.87,280.47 612.96,274.76 613.05,269.38 613.12,264.26 613.2,259.07 613.28,253.89 613.35,248.84 613.43,244.04 613.5,239.61 613.58,235.73 613.66,232.52 613.73,230.11 613.81,228.63 613.88,228.12 613.96,228.63 614.04,230.11 614.11,232.52 614.19,235.73 614.26,239.62 614.34,244.04 614.42,248.85 614.49,253.9 614.57,259.07 614.64,264.26 614.72,269.38 614.8,274.36 614.88,279.55 614.97,284.88 615.07,290.31 615.17,295.77 615.29,301.16 615.42,306.4 615.55,311.46 615.7,316.24 615.87,320.7 616.05,324.82 616.24,328.59 616.45,332.01 616.68,335.05 616.94,337.77 617.21,340.16 617.51,342.26 617.84,344.08 618.19,345.67 618.58,347.03 619,348.21 619.46,349.22 619.96,350.08 620.51,350.81 621.11,351.44 621.76,351.97 622.47,352.42 623.24,352.8 624.08,353.13 625,353.4 626,353.63 627.09,353.83 628.28,353.99 629.57,354.13 630.98,354.25 632.52,354.35 634.2,354.44 636.03,354.51 637.93,354.57 639.83,354.61 641.73,354.65 643.64,354.68 645.54,354.7 647.44,354.72 649.34,354.74 651.24,354.76 653.15,354.77 655.05,354.78 656.95,354.79 658.85,354.8 660.75,354.81 660.8,354.81" fill="none" stroke="#a31a40" stroke-width="1.7"/>
<polyline points="534,354.85 535.9,354.84 537.8,354.84 539.71,354.83 541.61,354.83 543.51,354.82 545.41,354.82 547.31,354.81 549.22,354.8 551.12,354.79 553.02,354.78 554.92,354.77 556.82,354.75 558.73,354.73 560.63,354.7 562.45,354.67 564.12,354.63 565.63,354.59 567,354.53 568.26,354.47 569.39,354.4 570.43,354.31 571.38,354.2 572.23,354.08 573.02,353.93 573.73,353.75 574.37,353.54 574.96,353.29 575.5,352.99 575.99,352.63 576.43,352.22 576.83,351.73 577.2,351.15 577.53,350.49 577.84,349.71 578.12,348.83 578.37,347.82 578.6,346.68 578.81,345.42 579,344.03 579.17,342.52 579.33,340.91 579.47,339.21 579.6,337.45 579.72,335.66 579.83,333.88 579.92,332.13 580.01,330.44 580.09,328.84 580.17,327.3 580.25,325.74 580.32,324.19 580.4,322.69 580.47,321.27 580.55,319.97 580.63,318.84 580.7,317.93 580.78,317.26 580.86,316.87 580.92,316.77 580.93,316.78 581.01,316.99 581.08,317.49 581.16,318.26 581.24,319.27 581.31,320.47 581.39,321.82 581.46,323.27 581.54,324.8 581.62,326.35 581.69,327.9 581.77,329.42 581.84,330.92 581.93,332.48 582.02,334.09 582.12,335.71 582.23,337.34 582.35,338.95 582.47,340.51 582.61,342 582.77,343.41 582.93,344.73 583.11,345.94 583.31,347.05 583.53,348.05 583.76,348.94 584.02,349.73 584.3,350.42 584.6,351.03 584.94,351.55 585.3,352.01 585.69,352.4 586.12,352.73 586.59,353.02 587.1,353.26 587.66,353.46 588.26,353.63 588.93,353.77 589.65,353.88 590.43,353.97 591.29,354.04 592.22,354.08 593.24,354.11 594.35,354.12 595.56,354.1 596.88,354.05 598.31,353.97 599.71,353.84 600.99,353.67 602.15,353.46 603.21,353.2 604.17,352.88 605.04,352.5 605.84,352.03 606.56,351.48 607.22,350.81 607.82,350.01 608.37,349.06 608.86,347.93 609.31,346.6 609.73,345.02 610.1,343.17 610.44,341.02 610.75,338.52 611.03,335.65 611.29,332.37 611.52,328.68 611.74,324.54 611.93,319.98 612.1,315.03 612.26,309.7 612.41,304.08 612.54,298.25 612.66,292.31 612.77,286.32 612.87,280.47 612.96,274.76 613.05,269.38 613.12,264.26 613.2,259.07 613.28,253.89 613.35,248.84 613.43,244.04 613.5,239.61 613.58,235.73 613.66,232.52 613.73,230.11 613.81,228.63 613.88,228.12 613.96,228.63 614.04,230.11 614.11,232.52 614.19,235.73 614.26,239.62 614.34,244.04 614.42,248.85 614.49,253.9 614.57,259.07 614.64,264.26 614.72,269.38 614.8,274.36 614.88,279.55 614.97,284.88 615.07,290.31 615.17,295.77 615.29,301.16 615.42,306.4 615.55,311.46 615.7,316.24 615.87,320.7 616.05,324.82 616.24,328.59 616.45,332.01 616.68,335.05 616.94,337.77 617.21,340.16 617.51,342.26 617.84,344.08 618.19,345.67 618.58,347.03 619,348.21 619.46,349.22 619.96,350.08 620.51,350.81 621.11,351.44 621.76,351.97 622.47,352.42 623.24,352.8 624.08,353.13 625,353.4 626,353.63 627.09,353.83 628.28,353.99 629.57,354.13 630.98,354.25 632.52,354.35 634.2,354.44 636.03,354.51 637.93,354.57 639.83,354.61 641.73,354.65 643.64,354.68 645.54,354.7 647.44,354.72 649.34,354.74 651.24,354.76 653.15,354.77 655.05,354.78 656.95,354.79 658.85,354.8 660.75,354.81 660.8,354.81" fill="none" stroke="#5e5e5e" stroke-width="1.3" stroke-dasharray="1.5 1.54" stroke-dashoffset="1.42"/>
<g font-family="Liberation Serif, serif" font-size="13.3" fill="#333333" stroke="#333333" stroke-width="0.0">
<text transform="translate(39.7 9.95) scale(0.9 1)" text-anchor="end">0</text>
<text transform="translate(39.7 53.55) scale(0.9 1)" text-anchor="end">-2</text>
<text transform="translate(39.7 97.15) scale(0.9 1)" text-anchor="end">-4</text>
<text transform="translate(39.7 140.75) scale(0.9 1)" text-anchor="end">-6</text>
<text transform="translate(43.3 173.85) scale(0.9 1)" text-anchor="middle">0</text>
<text transform="translate(85.57 173.85) scale(0.9 1)" text-anchor="middle">1</text>
<text transform="translate(127.83 173.85) scale(0.9 1)" text-anchor="middle">2</text>
<text transform="translate(170.1 173.85) scale(0.9 1)" text-anchor="middle">3</text>
<text transform="translate(44.52 18.68) scale(1.020 1)" font-size="15.11" fill="#111" stroke-width="0.2">(a)</text>
<text transform="translate(79.15 185.73) scale(1.021 1)" font-size="16.66" font-style="italic" fill="#111" stroke-width="0.25">iteration</text>
<text transform="translate(200.5 9.95) scale(0.9 1)" text-anchor="end">0</text>
<text transform="translate(200.5 53.55) scale(0.9 1)" text-anchor="end">-2</text>
<text transform="translate(200.5 97.15) scale(0.9 1)" text-anchor="end">-4</text>
<text transform="translate(200.5 140.75) scale(0.9 1)" text-anchor="end">-6</text>
<text transform="translate(204.1 173.85) scale(0.9 1)" text-anchor="middle">0</text>
<text transform="translate(267.55 173.85) scale(0.9 1)" text-anchor="middle">5</text>
<text transform="translate(331 173.85) scale(0.9 1)" text-anchor="middle">10</text>
<text transform="translate(206.94 18.68) scale(0.988 1)" font-size="15.11" fill="#111" stroke-width="0.2">(b)</text>
<text transform="translate(237.78 185.73) scale(0.994 1)" font-size="16.66" font-style="italic" fill="#111" stroke-width="0.25">iteration</text>
<text transform="translate(365.6 9.95) scale(0.9 1)" text-anchor="end">0</text>
<text transform="translate(365.6 53.55) scale(0.9 1)" text-anchor="end">-2</text>
<text transform="translate(365.6 97.15) scale(0.9 1)" text-anchor="end">-4</text>
<text transform="translate(365.6 140.75) scale(0.9 1)" text-anchor="end">-6</text>
<text transform="translate(369.2 173.85) scale(0.9 1)" text-anchor="middle">0</text>
<text transform="translate(432.55 173.85) scale(0.9 1)" text-anchor="middle">5</text>
<text transform="translate(495.9 173.85) scale(0.9 1)" text-anchor="middle">10</text>
<text transform="translate(371.31 18.68) scale(1.043 1)" font-size="15.11" fill="#111" stroke-width="0.2">(c)</text>
<text transform="translate(405.16 185.73) scale(1.010 1)" font-size="16.66" font-style="italic" fill="#111" stroke-width="0.25">iteration</text>
<text transform="translate(524.4 9.95) scale(0.9 1)" text-anchor="end">0</text>
<text transform="translate(524.4 53.55) scale(0.9 1)" text-anchor="end">-2</text>
<text transform="translate(524.4 97.15) scale(0.9 1)" text-anchor="end">-4</text>
<text transform="translate(524.4 140.75) scale(0.9 1)" text-anchor="end">-6</text>
<text transform="translate(528 173.85) scale(0.9 1)" text-anchor="middle">0</text>
<text transform="translate(654.7 173.85) scale(0.9 1)" text-anchor="middle">5</text>
<text transform="translate(531.13 18.68) scale(1.007 1)" font-size="15.11" fill="#111" stroke-width="0.2">(d)</text>
<text transform="translate(572.56 185.73) scale(1.012 1)" font-size="16.66" font-style="italic" fill="#111" stroke-width="0.25">iteration</text>
<text transform="translate(39.7 359.3) scale(0.9 1)" text-anchor="end">0</text>
<text transform="translate(39.7 308.28) scale(0.9 1)" text-anchor="end">0.5</text>
<text transform="translate(39.7 257.27) scale(0.9 1)" text-anchor="end">1</text>
<text transform="translate(39.7 206.25) scale(0.9 1)" text-anchor="end">1.5</text>
<text transform="translate(43.3 370.3) scale(0.9 1)" text-anchor="middle">-10</text>
<text transform="translate(106.8 370.3) scale(0.9 1)" text-anchor="middle">0</text>
<text transform="translate(170.3 370.3) scale(0.9 1)" text-anchor="middle">10</text>
<text transform="translate(46.31 215.91) scale(1.050 1)" font-size="15" fill="#111" stroke-width="0.2">(e)</text>
<text transform="translate(92.51 388.55) scale(0.956 1)" font-size="15.46" font-style="italic" fill="#111" stroke-width="0.25">ω</text>
<text transform="translate(104.1 391.8) scale(1.083 1)" font-size="20.93" fill="#111" stroke-width="0.25">/</text>
<text transform="translate(111.57 388.64) scale(1.030 1)" font-size="16.06" font-style="italic" fill="#111" stroke-width="0.25">t</text>
<text transform="translate(200.5 359.3) scale(0.9 1)" text-anchor="end">0</text>
<text transform="translate(200.5 308.28) scale(0.9 1)" text-anchor="end">0.5</text>
<text transform="translate(200.5 257.27) scale(0.9 1)" text-anchor="end">1</text>
<text transform="translate(200.5 206.25) scale(0.9 1)" text-anchor="end">1.5</text>
<text transform="translate(204.1 370.3) scale(0.9 1)" text-anchor="middle">-10</text>
<text transform="translate(267.55 370.3) scale(0.9 1)" text-anchor="middle">0</text>
<text transform="translate(331 370.3) scale(0.9 1)" text-anchor="middle">10</text>
<text transform="translate(206.32 215.94) scale(1.036 1)" font-size="14.83" fill="#111" stroke-width="0.2">(f)</text>
<text transform="translate(254.7 389.74) scale(0.951 1)" font-size="15.88" font-style="italic" fill="#111" stroke-width="0.25">ω</text>
<text transform="translate(266.4 392.9) scale(1.099 1)" font-size="20.63" fill="#111" stroke-width="0.25">/</text>
<text transform="translate(273.57 389.45) scale(1.065 1)" font-size="15.54" font-style="italic" fill="#111" stroke-width="0.25">t</text>
<text transform="translate(365.5 359.3) scale(0.9 1)" text-anchor="end">0</text>
<text transform="translate(365.5 308.28) scale(0.9 1)" text-anchor="end">0.5</text>
<text transform="translate(365.5 257.27) scale(0.9 1)" text-anchor="end">1</text>
<text transform="translate(365.5 206.25) scale(0.9 1)" text-anchor="end">1.5</text>
<text transform="translate(369.1 370.3) scale(0.9 1)" text-anchor="middle">-10</text>
<text transform="translate(432.55 370.3) scale(0.9 1)" text-anchor="middle">0</text>
<text transform="translate(496 370.3) scale(0.9 1)" text-anchor="middle">10</text>
<text transform="translate(371.33 215.87) scale(1.017 1)" font-size="14.95" fill="#111" stroke-width="0.2">(g)</text>
<text transform="translate(420.8 390.04) scale(0.915 1)" font-size="16.51" font-style="italic" fill="#111" stroke-width="0.25">ω</text>
<text transform="translate(432.4 393.19) scale(1.076 1)" font-size="21.08" fill="#111" stroke-width="0.25">/</text>
<text transform="translate(439.67 389.45) scale(1.065 1)" font-size="15.54" font-style="italic" fill="#111" stroke-width="0.25">t</text>
<text transform="translate(530.4 359.3) scale(0.9 1)" text-anchor="end">0</text>
<text transform="translate(530.4 308.28) scale(0.9 1)" text-anchor="end">0.5</text>
<text transform="translate(530.4 257.27) scale(0.9 1)" text-anchor="end">1</text>
<text transform="translate(530.4 206.25) scale(0.9 1)" text-anchor="end">1.5</text>
<text transform="translate(534 370.3) scale(0.9 1)" text-anchor="middle">-10</text>
<text transform="translate(597.4 370.3) scale(0.9 1)" text-anchor="middle">0</text>
<text transform="translate(660.8 370.3) scale(0.9 1)" text-anchor="middle">10</text>
<text transform="translate(536.33 215.91) scale(1.014 1)" font-size="15" fill="#111" stroke-width="0.2">(h)</text>
<text transform="translate(586 389.74) scale(0.951 1)" font-size="15.88" font-style="italic" fill="#111" stroke-width="0.25">ω</text>
<text transform="translate(597.7 392.9) scale(1.047 1)" font-size="20.63" fill="#111" stroke-width="0.25">/</text>
<text transform="translate(604.99 389.45) scale(1.039 1)" font-size="15.54" font-style="italic" fill="#111" stroke-width="0.25">t</text>
<text transform="translate(18.96 99.98) rotate(-90) scale(0.798 1)" font-size="20.75" font-style="italic" fill="#111" stroke-width="0.45">E</text>
<text transform="translate(23.25 87) rotate(-90) scale(0.969 1)" font-size="27.89" fill="#111" stroke-width="0.45">/</text>
<text transform="translate(18.11 77.69) rotate(-90) scale(1.258 1)" font-size="19.73" font-style="italic" fill="#111" stroke-width="0.45">t</text>
<text transform="translate(16 306.62) rotate(-90) scale(0.794 1)" font-size="20.33" font-style="italic" fill="#111" stroke-width="0.45">A</text>
<text transform="translate(20 294.25) rotate(-90) scale(1.127 1)" font-size="13.84" font-style="italic" fill="#111" stroke-width="0.45">k</text>
<text transform="translate(19.28 287.15) rotate(-90) scale(1.100 1)" font-size="17.46" fill="#111" stroke-width="0.45">↑</text>
<text transform="translate(16.15 274.85) rotate(-90) scale(0.858 1)" font-size="19.96" fill="#111" stroke-width="0.45">(</text>
<text transform="translate(15.71 267.61) rotate(-90) scale(0.921 1)" font-size="19.85" font-style="italic" fill="#111" stroke-width="0.45">ω</text>
<text transform="translate(16.15 253.59) rotate(-90) scale(1.073 1)" font-size="19.96" fill="#111" stroke-width="0.45">)</text>
</g></svg></body></html>
